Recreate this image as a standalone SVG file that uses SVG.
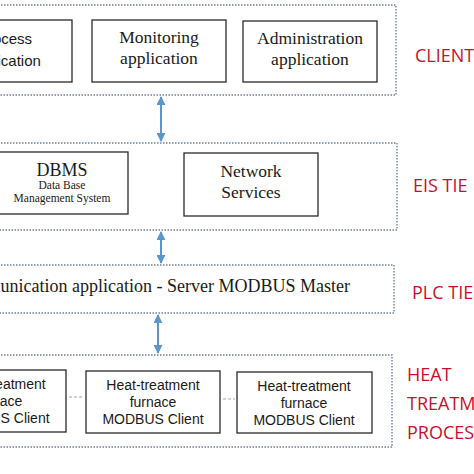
<svg xmlns="http://www.w3.org/2000/svg" width="474" height="474" viewBox="0 0 474 474">
<defs>
<style>
.tier{fill:none;stroke:#6b7f99;stroke-width:1.4;stroke-dasharray:1.5 1.5}
.box{fill:#fff;stroke:#2a2a2a;stroke-width:1.3}
.serif{font-family:"Liberation Serif","Times New Roman",serif;fill:#1a1a1a;text-anchor:middle}
.sans{font-family:"Liberation Sans",Arial,sans-serif;fill:#1a1a1a;text-anchor:middle}
.lbl{font-family:"Open Sans","Liberation Sans",sans-serif;fill:#c8102e;font-size:18px}
.arr{stroke:#5b95cc;stroke-width:2;fill:none;marker-start:url(#ah);marker-end:url(#ah)}
.link{stroke:#9aa6b4;stroke-width:1.2;stroke-dasharray:3 2}
</style>
<marker id="ah" viewBox="0 0 10 10" refX="9" refY="5" markerWidth="4.5" markerHeight="4.5" orient="auto-start-reverse" markerUnits="strokeWidth">
<path d="M0,0 L10,5 L0,10 z" fill="#5b95cc"/>
</marker>
</defs>
<rect width="474" height="474" fill="#fff"/>

<g id="client-tier">
<rect class="tier" x="-20" y="5" width="416" height="90"/>
<text class="lbl" x="415" y="62">CLIENT</text>
</g>
<g id="process-app">
<rect class="box" x="-62" y="20" width="134" height="62"/>
<text class="sans" x="5" y="44" font-size="15">Process</text>
<text class="sans" x="5" y="66" font-size="15">application</text>
</g>
<g id="monitoring-app">
<rect class="box" x="92" y="20" width="134" height="62"/>
<text class="serif" x="159" y="43" font-size="17.5">Monitoring</text>
<text class="serif" x="159" y="64" font-size="17.5">application</text>
</g>
<g id="admin-app">
<rect class="box" x="243" y="21" width="134" height="61"/>
<text class="serif" x="310" y="44" font-size="17.5">Administration</text>
<text class="serif" x="310" y="65" font-size="17.5">application</text>
</g>

<g id="eis-tier">
<rect class="tier" x="-20" y="143" width="417" height="87"/>
<text class="lbl" x="413" y="192">EIS TIE</text>
</g>
<g id="dbms">
<rect class="box" x="-10" y="152" width="138" height="62"/>
<text class="serif" x="62" y="176" font-size="18">DBMS</text>
<text class="serif" x="62" y="189" font-size="11.5">Data Base</text>
<text class="serif" x="62" y="202" font-size="11.5">Management System</text>
</g>
<g id="network-services">
<rect class="box" x="184" y="153" width="134" height="63"/>
<text class="serif" x="251" y="177" font-size="17.5">Network</text>
<text class="serif" x="251" y="198" font-size="17.5">Services</text>
</g>

<g id="plc-tier">
<rect class="tier" x="-20" y="265" width="414" height="48"/>
<text class="serif" x="350" y="292" font-size="18" style="text-anchor:end">Communication application - Server MODBUS Master</text>
<text class="lbl" x="412" y="299">PLC TIE</text>
</g>

<g id="heat-tier">
<rect class="tier" x="-20" y="355" width="412" height="92"/>
<text class="lbl" x="407" y="381" font-size="19">HEAT</text>
<text class="lbl" x="407" y="410" font-size="19">TREATMENT</text>
<text class="lbl" x="407" y="439" font-size="19">PROCESS</text>
</g>
<g id="furnace-1">
<rect class="box" x="-68" y="370" width="134" height="62"/>
<text class="sans" x="-1" y="389" font-size="14">Heat-treatment</text>
<text class="sans" x="-1" y="406" font-size="14">furnace</text>
<text class="sans" x="-1" y="423" font-size="14">MODBUS Client</text>
</g>
<g id="furnace-2">
<rect class="box" x="86" y="371" width="134" height="62"/>
<text class="sans" x="153" y="390" font-size="14">Heat-treatment</text>
<text class="sans" x="153" y="407" font-size="14">furnace</text>
<text class="sans" x="153" y="424" font-size="14">MODBUS Client</text>
</g>
<g id="furnace-3">
<rect class="box" x="237" y="372" width="135" height="61"/>
<text class="sans" x="304" y="391" font-size="14">Heat-treatment</text>
<text class="sans" x="304" y="408" font-size="14">furnace</text>
<text class="sans" x="304" y="425" font-size="14">MODBUS Client</text>
</g>

<g id="connectors">
<line class="arr" x1="161" y1="97" x2="161" y2="141"/>
<line class="arr" x1="161" y1="232" x2="161" y2="263"/>
<line class="arr" x1="158" y1="315" x2="158" y2="353"/>
<line class="link" x1="69" y1="397" x2="84" y2="397"/>
<line class="link" x1="223" y1="399" x2="235" y2="399"/>
</g>
</svg>
